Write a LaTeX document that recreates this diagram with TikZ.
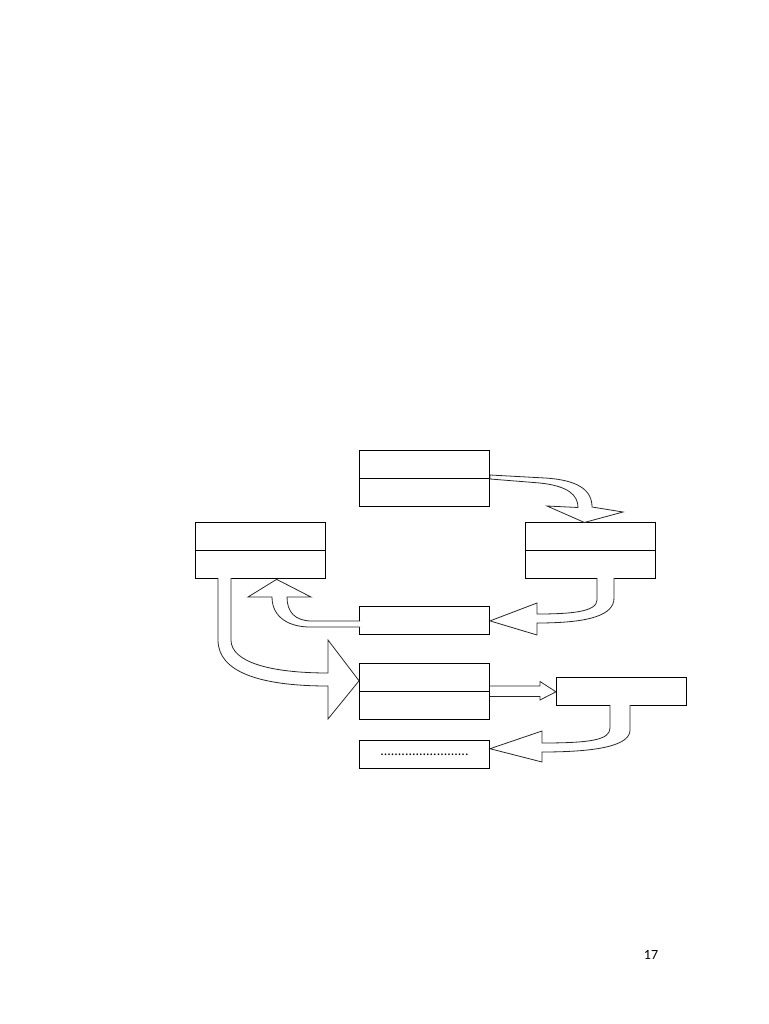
\documentclass[tikz,border=0pt]{standalone}
\usepackage{fontspec}
\setmainfont{Carlito}
\usetikzlibrary{positioning}

\begin{document}
\begin{tikzpicture}[%
    x=1pt, y=-1pt,
    node distance=20pt,
    font=\fontsize{14}{16}\selectfont,
twobox/.style={rectangle, draw=black, line width=0.9pt, fill=white, inner sep=0pt, minimum width=130pt, minimum height=56pt},
onebox/.style={rectangle, draw=black, line width=0.9pt, fill=white, inner sep=0pt, minimum width=130pt, minimum height=28pt},
blockarrow/.style={draw=black!85, line width=0.8pt, fill=white, line join=miter}
]
\useasboundingbox (0,0) rectangle (768,1024);

% Upper Boxes
\node[twobox]      (topbox)   at (424.5,478) {};
\node[twobox]      (leftbox)  [below left=16pt and 33pt of topbox] {};
\node[twobox]      (rightbox) [below right=16pt and 35pt of topbox] {};
\node[onebox]      (midbox)   [below=100pt of topbox] {};

% Lower Boxes
\node[twobox]      (lowbox)   [below=28pt of midbox] {};
\node[onebox]      (sidebox)  [right=66pt of lowbox] {};
\node[onebox]      (dotbox)   [below=20pt of lowbox] {.........................};

% Dividers
\draw[line width=0.9pt] (topbox.west) -- (topbox.east);
\draw[line width=0.9pt] (leftbox.west) -- (leftbox.east);
\draw[line width=0.9pt] (rightbox.west) -- (rightbox.east);
\draw[line width=0.9pt] (lowbox.west) -- (lowbox.east);

% Cycle Arrows
\draw[blockarrow] (490,475) -- (545,478) .. controls (578,480) and (592,490) .. (592,507)
    -- (623,512) -- ([xshift=-6pt]rightbox.north) -- (547,506) -- (578,507.5)
    .. controls (578,495) and (568,486) .. (540,483) -- (490,479) -- cycle;
\draw[blockarrow] (597,578) -- (597,600) .. controls (597,612) and (570,614) .. (537,614)
    -- (537,603) -- (midbox.east) -- (537,635) -- (537,623)
    .. controls (590,623) and (614,615) .. (614,598) -- (614,578);
\draw[blockarrow] (360,621) -- (312,621) .. controls (295,621) and (287,612) .. (287,597)
    -- (311,597) -- ([xshift=16pt]leftbox.south) -- (248,597) -- (272,597)
    .. controls (272,618) and (290,627) .. (310,627) -- (360,627);

% Lower Arrows
\draw[blockarrow] (218,578) -- (218,640) .. controls (218,672) and (260,686) .. (328,686)
    -- (328,719) -- ([yshift=11pt]lowbox.west) -- (328,640) -- (328,673)
    .. controls (270,673) and (231,662) .. (231,640) -- (231,578);
\draw[blockarrow] (490,686) -- (540,686) -- (540,681.5) -- (sidebox.west)
    -- (540,700) -- (540,696.5) -- (490,696.5);
\draw[blockarrow] (610,705) -- (610,728) .. controls (610,740) and (590,743) .. (542,743)
    -- (542,731) -- ([yshift=6pt]dotbox.east) -- (542,762) -- (542,752)
    .. controls (600,752) and (630,745) .. (630,730) -- (630,705);

% Page Number
\node (pagenum) at (651,955) {17};

\end{tikzpicture}
\end{document}
